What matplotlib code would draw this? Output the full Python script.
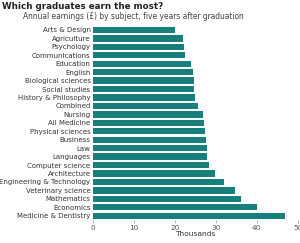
import numpy as np
from matplotlib import pyplot as plt

# -----------------------------
# Data
# -----------------------------
subjects = [
    "Arts & Design", "Agriculture", "Psychology", "Communications", "Education",
    "English", "Biological sciences", "Social studies", "History & Philosophy",
    "Combined", "Nursing", "All Medicine", "Physical sciences", "Business", "Law",
    "Languages", "Computer science", "Architecture", "Engineering & Technology",
    "Veterinary science", "Mathematics", "Economics", "Medicine & Dentistry",
]
earnings_k = [
    20.2, 22.1, 22.4, 22.6, 24.0,
    24.4, 24.6, 24.6, 24.9,
    25.6, 27.0, 27.2, 27.3, 27.6, 27.9,
    27.9, 28.5, 29.8, 32.1,
    34.8, 36.2, 40.1, 47.0,
]
xticks = [0, 10, 20, 30, 40, 50]

BAR = "#17807c"
TXT = "#333333"

fig = plt.figure(figsize=(3.0, 2.43), dpi=100)
ax = fig.add_axes([0.309, 0.095, 0.683, 0.799])

y = np.arange(len(subjects))
ax.barh(y, earnings_k, height=0.75, color=BAR)
ax.set_ylim(len(subjects) - 0.5, -0.5)
ax.set_xlim(0, 50)

ax.set_yticks(y)
ax.set_yticklabels(subjects, fontsize=5.0, color=TXT)
ax.set_xticks(xticks)
ax.set_xticklabels([str(t) for t in xticks], fontsize=5.2, color="#555555")
ax.tick_params(axis="y", length=0, pad=1.5)
ax.tick_params(axis="x", length=2.5, width=0.5, color="#999999", pad=1.5)
for s in ax.spines.values():
    s.set_visible(False)

ax.set_xlabel("Thousands", fontsize=5.4, color=TXT, labelpad=0)

fig.text(0.008, 0.975, "Which graduates earn the most?", fontsize=6.3,
         fontweight="bold", color="#222222", va="center", ha="left")
fig.text(0.078, 0.932, "Annual earnings (£) by subject, five years after graduation",
         fontsize=5.45, color="#444444", va="center", ha="left")

fig.savefig("out.png", dpi=100)
